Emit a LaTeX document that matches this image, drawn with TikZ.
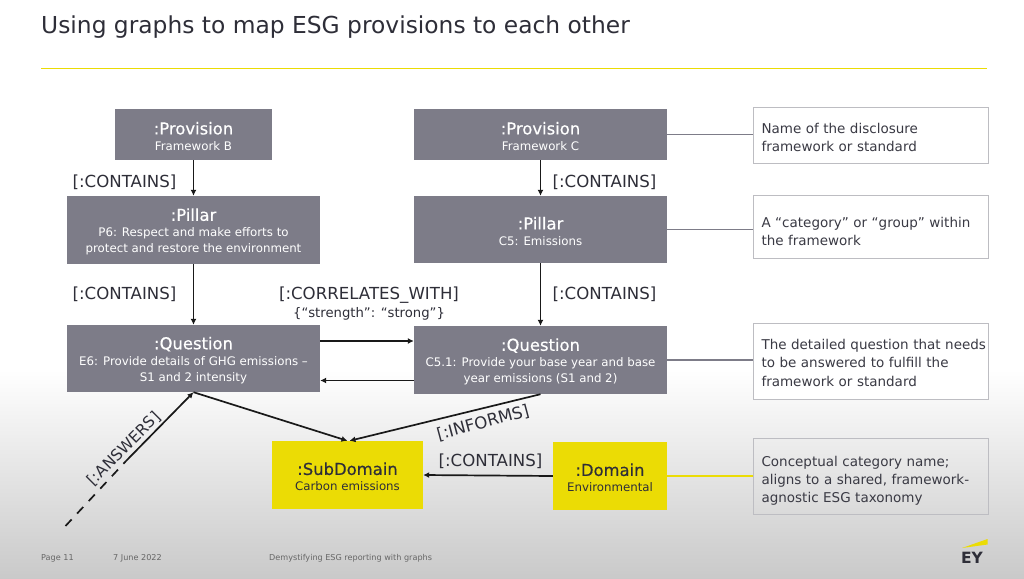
\documentclass[tikz,border=0pt]{standalone}
\usepackage{fontspec}
\setmainfont{DejaVu Sans}
\newfontfamily\medfont[FakeBold=0.4]{DejaVu Sans}
\usetikzlibrary{arrows.meta,calc}
\definecolor{eygray}{HTML}{7D7C88}
\definecolor{eyyellow}{HTML}{EBDC05}
\definecolor{eyink}{HTML}{2E2E38}
\definecolor{notegray}{HTML}{3A3A44}
\definecolor{boxedge}{HTML}{BDBDC2}
\tikzset{
  grayn/.style={fill=eygray,text=white,align=center,inner sep=0pt,anchor=center},
  yelln/.style={fill=eyyellow,text=eyink,align=center,inner sep=0pt,anchor=center},
  note/.style={draw=boxedge,line width=1pt,text=notegray,inner sep=0pt,anchor=west,align=left,font=\fontsize{13.5}{18.2}\selectfont},
  rel/.style={text=eyink,inner sep=0pt,font=\fontsize{16.6}{19}\selectfont},
  arr/.style={draw=black!90,line width=1.7pt,-{Latex[length=6pt,width=6pt]}},
  lnk/.style={draw=#1,line width=1.7pt},
  foot/.style={text=black!60,inner sep=0pt,anchor=west,font=\fontsize{8.1}{10}\selectfont},
}
\newcommand{\sml}{\fontsize{11.8}{16}\selectfont}
\newcommand{\ntitle}[2]{\medfont\fontsize{16.4}{18}\selectfont\rule{0pt}{16pt}#1\\[4pt]\normalfont\sml #2}
\newcommand{\nextl}{\\[4pt]\normalfont\sml }
\begin{document}
\begin{tikzpicture}[x=1pt,y=-1pt]
\useasboundingbox (0,0) rectangle (1024,578);
\fill[white] (0,0) rectangle (1024,370);
\shade[top color=white,bottom color=black!21] (0,370) rectangle (1024,578);
\node[anchor=west,inner sep=0pt,text=eyink,font=\fontsize{23.35}{28}\selectfont] (title) at (41,27.5) {Using graphs to map ESG provisions to each other};
\coordinate (ruleL) at (41,68.5);
\coordinate (ruleR) at (987,68.5);
\draw[eyyellow,line width=1.5pt] (ruleL) -- (ruleR);

\node[grayn,minimum width=157pt,minimum height=51pt] (pb) at (193.5,134.5) {\ntitle{:Provision}{Framework B}};
\node[grayn,minimum width=253pt,minimum height=51pt] (pc) at (540.5,134.5) {\ntitle{:Provision}{Framework C}};
\node[grayn,minimum width=253pt,minimum height=68pt] (pl) at (193.5,230) {\ntitle{:Pillar}{P6: Respect and make efforts to\nextl protect and restore the environment}};
\node[grayn,minimum width=253pt,minimum height=67pt] (pr) at (540.5,229.5) {\ntitle{:Pillar}{C5: Emissions}};
\node[grayn,minimum width=253pt,minimum height=67pt] (ql) at (193.5,358.5) {\ntitle{:Question}{E6: Provide details of GHG emissions –\nextl S1 and 2 intensity}};
\node[grayn,minimum width=253pt,minimum height=68pt] (qr) at (540.5,360) {\ntitle{:Question}{C5.1: Provide your base year and base\nextl year emissions (S1 and 2)}};
\node[yelln,minimum width=151pt,minimum height=68pt] (sd) at (347.5,475) {\ntitle{:SubDomain}{Carbon emissions}};
\node[yelln,minimum width=114pt,minimum height=68pt] (dm) at (610,476) {\ntitle{:Domain}{Environmental}};

\node[note,minimum width=235pt,minimum height=56pt,fill=white,inner xsep=8pt,text width=219pt] (n1) at (753,135) {\rule{0pt}{15pt}Name of the disclosure\\framework or standard};
\node[note,minimum width=235pt,minimum height=63pt,fill=white,inner xsep=8pt,text width=219pt] (n2) at (753,226.5) {\rule{0pt}{20pt}A “category” or “group” within\\the framework};
\node[note,minimum width=235pt,minimum height=76pt,fill=white,inner xsep=8pt,text width=219pt] (n3) at (753,361) {\rule{0pt}{14pt}\makebox[219pt][l]{The detailed question that needs}\\to be answered to fulfill the\\framework or standard};
\node[note,minimum width=235pt,minimum height=76pt,inner xsep=8pt,text width=219pt] (n4) at (753,476) {\rule{0pt}{20pt}Conceptual category name;\\aligns to a shared, framework-\\agnostic ESG taxonomy};

\draw[lnk=eygray] (pc.east) -- (pc.east -| n1.west);
\draw[lnk=eygray] (pr.east) -- (pr.east -| n2.west);
\draw[lnk=eygray] (qr.east) -- (qr.east -| n3.west);
\draw[lnk=eyyellow] (dm.east) -- (dm.east -| n4.west);

\draw[arr] (pb.south) -- (pl.north);
\draw[arr] (pc.south) -- (pr.north);
\draw[arr] (pl.south) -- (ql.north);
\draw[arr] (pr.south) -- (qr.north);
\draw[arr] ([yshift=17.5pt]ql.east) -- ([yshift=19pt]qr.west);
\draw[arr] ([yshift=-20.5pt]qr.west) -- ([yshift=-22pt]ql.east);
\draw[arr] (ql.south) -- (sd.north);
\draw[arr] (qr.south) -- ([xshift=2pt]sd.north);
\draw[arr] (dm.west) -- (sd.east);

\coordinate (ansfree) at (65.5,526);
\coordinate (ansmid) at (126,461);
\draw[line width=1.7pt,dash pattern=on 9pt off 8pt,draw=black!90] (ansfree) -- (ansmid);
\draw[arr] (ansmid) -- (ql.south);

\node[rel] (c1) at (124.5,182.5) {[:CONTAINS]};
\node[rel] (c2) at (604.5,182.5) {[:CONTAINS]};
\node[rel] (c3) at (124.5,294.5) {[:CONTAINS]};
\node[rel] (c4) at (604.5,294.5) {[:CONTAINS]};
\node[rel] (c5) at (369,295.5) {[:CORRELATES\_WITH]};
\node[rel,font=\fontsize{13.2}{15}\selectfont] (c6) at (369,314) {\{“strength”: “strong”\}};
\node[rel,rotate=15] (c7) at (483,423) {[:INFORMS]};
\node[rel] (c8) at (490.5,461.5) {[:CONTAINS]};
\node[rel,rotate=45,font=\fontsize{15.6}{18}\selectfont] (c9) at (124,449) {[:ANSWERS]};

\node[foot] (f1) at (41,558) {Page 11};
\node[foot] (f2) at (113,558) {7 June 2022};
\node[foot] (f3) at (269,558) {Demystifying ESG reporting with graphs};
\fill[eyyellow] (962,548) -- (987.5,539) -- (987.5,544.5) -- cycle;
\node[anchor=center,inner sep=0pt,text=eyink,font=\fontsize{15.5}{18}\bfseries\selectfont] (ey) at (972,558) {EY};
\end{tikzpicture}
\end{document}
